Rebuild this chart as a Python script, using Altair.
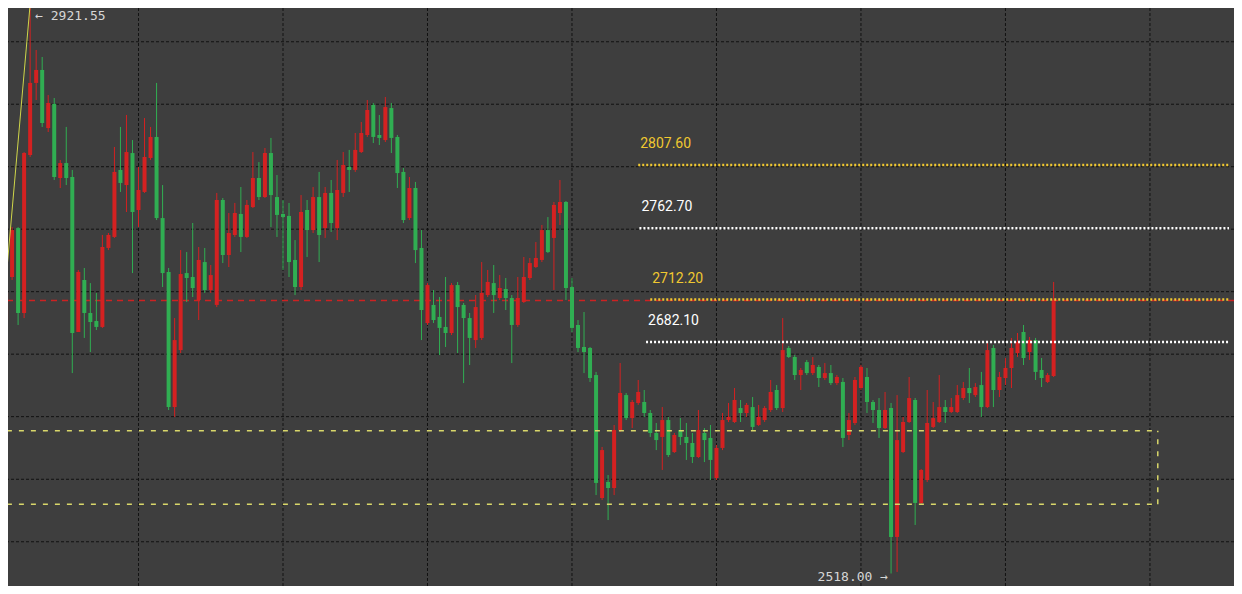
import altair as alt
import pandas as pd

# ---- candle data (index 0 = leftmost bar) ----
OPEN = [2697.7, 2728.2, 2762.9, 2702.7, 2814.7, 2865.8, 2875.0, 2833.8, 2850.9, 2798.4,
        2809.0, 2799.1, 2689.2, 2726.1, 2702.7, 2697.0, 2692.8, 2748.8, 2756.6, 2804.1,
        2793.4, 2816.1, 2775.7, 2788.5, 2812.6, 2827.5, 2770.0, 2731.8, 2636.0, 2676.4,
        2731.0, 2728.2, 2711.9, 2738.8, 2719.0, 2708.4, 2782.8, 2743.8, 2758.0, 2772.9,
        2756.6, 2777.8, 2798.4, 2784.9, 2816.1, 2784.9, 2772.9, 2771.5, 2740.3, 2721.1,
        2775.7, 2761.5, 2784.9, 2762.9, 2787.8, 2762.9, 2787.8, 2806.2, 2804.1, 2816.8,
        2828.9, 2850.2, 2828.9, 2825.3, 2848.0, 2827.5, 2802.7, 2770.0, 2791.3, 2748.8,
        2695.6, 2708.4, 2699.9, 2692.8, 2688.5, 2722.5, 2708.4, 2699.1, 2683.5, 2685.0,
        2715.4, 2723.9, 2713.3, 2719.7, 2713.3, 2694.2, 2710.5, 2727.5, 2735.3, 2740.3,
        2761.5, 2755.9, 2773.6, 2781.4, 2721.1, 2694.2, 2678.6, 2677.9, 2658.7, 2571.5,
        2582.9, 2578.6, 2619.7, 2644.5, 2628.2, 2638.9, 2639.6, 2631.8, 2617.6, 2614.8,
        2626.8, 2604.1, 2619.7, 2614.8, 2610.5, 2600.6, 2617.6, 2614.1, 2585.7, 2607.0,
        2626.8, 2625.4, 2635.3, 2631.8, 2636.0, 2623.3, 2626.8, 2633.9, 2648.1, 2635.3,
        2677.9, 2671.5, 2658.7, 2667.9, 2660.1, 2664.4, 2656.6, 2660.1, 2653.0, 2653.8,
        2616.2, 2624.7, 2649.5, 2657.3, 2639.6, 2633.9, 2621.1, 2635.3, 2543.9, 2604.1,
        2625.4, 2641.0, 2568.0, 2584.3, 2621.9, 2625.4, 2636.0, 2632.5, 2632.5, 2642.4,
        2649.5, 2644.5, 2651.6, 2636.0, 2677.9, 2648.1, 2656.6, 2663.7, 2674.3, 2689.2,
        2675.0, 2683.5, 2662.3, 2653.8, 2658.0]

HIGH = [2721.1, 2763.6, 2763.6, 2816.8, 2921.55, 2889.2, 2884.2, 2857.2, 2855.1, 2811.2,
        2834.6, 2804.1, 2733.2, 2734.6, 2723.9, 2716.9, 2758.0, 2759.4, 2820.4, 2834.6,
        2843.1, 2825.3, 2806.2, 2840.9, 2834.6, 2865.8, 2793.4, 2734.6, 2699.1, 2747.3,
        2745.9, 2766.5, 2749.5, 2748.8, 2736.7, 2787.8, 2784.2, 2773.6, 2780.7, 2792.0,
        2782.8, 2816.8, 2809.7, 2819.7, 2826.8, 2800.5, 2782.8, 2780.7, 2754.4, 2786.3,
        2782.8, 2792.0, 2802.7, 2792.0, 2797.0, 2811.2, 2816.8, 2818.3, 2830.3, 2838.1,
        2853.7, 2851.6, 2843.1, 2855.8, 2851.6, 2828.9, 2805.5, 2799.1, 2795.6, 2761.5,
        2723.9, 2719.0, 2714.0, 2728.2, 2723.9, 2724.7, 2709.8, 2702.7, 2715.4, 2738.8,
        2733.2, 2736.7, 2729.6, 2727.5, 2715.4, 2728.2, 2742.4, 2741.7, 2753.0, 2765.1,
        2770.7, 2781.4, 2797.0, 2782.1, 2727.5, 2697.7, 2703.4, 2678.6, 2660.9, 2607.7,
        2587.8, 2623.3, 2667.2, 2645.9, 2641.0, 2655.2, 2648.1, 2633.9, 2624.7, 2636.0,
        2629.0, 2617.6, 2628.2, 2624.7, 2617.6, 2633.9, 2621.1, 2623.3, 2609.1, 2631.8,
        2638.9, 2649.5, 2641.0, 2638.9, 2643.1, 2637.5, 2636.7, 2655.2, 2651.6, 2699.1,
        2679.3, 2672.9, 2663.7, 2669.4, 2671.5, 2665.8, 2667.2, 2665.8, 2658.7, 2656.6,
        2631.8, 2657.3, 2665.8, 2663.7, 2641.0, 2642.4, 2646.7, 2638.9, 2644.5, 2629.0,
        2657.3, 2642.4, 2592.1, 2648.1, 2639.6, 2658.7, 2641.0, 2642.4, 2651.6, 2653.8,
        2663.7, 2653.0, 2660.9, 2682.1, 2680.0, 2660.9, 2670.8, 2685.0, 2688.5, 2694.2,
        2685.7, 2685.0, 2670.8, 2660.1, 2724.7]

LOW = [2696.3, 2726.1, 2694.2, 2699.1, 2813.3, 2853.7, 2834.6, 2831.0, 2797.0, 2791.3,
       2793.4, 2660.1, 2689.2, 2685.0, 2675.0, 2690.6, 2692.1, 2747.3, 2755.9, 2788.5,
       2774.3, 2731.0, 2763.6, 2787.8, 2811.2, 2768.6, 2721.1, 2633.9, 2629.0, 2674.3,
       2710.5, 2714.0, 2697.7, 2716.9, 2716.9, 2706.9, 2738.1, 2735.3, 2756.6, 2745.9,
       2755.9, 2777.1, 2782.8, 2784.2, 2763.6, 2756.6, 2733.2, 2728.2, 2715.4, 2719.0,
       2742.4, 2759.4, 2738.8, 2755.9, 2760.1, 2754.4, 2784.9, 2788.5, 2802.7, 2816.1,
       2827.5, 2823.2, 2821.8, 2823.9, 2816.1, 2791.3, 2766.5, 2768.6, 2738.1, 2683.5,
       2694.2, 2695.6, 2672.9, 2678.6, 2687.1, 2674.3, 2653.0, 2665.8, 2677.9, 2683.5,
       2714.0, 2702.7, 2711.9, 2704.8, 2667.2, 2692.8, 2709.8, 2726.1, 2734.6, 2738.8,
       2745.2, 2719.0, 2765.1, 2711.9, 2689.2, 2675.0, 2660.1, 2653.8, 2573.6, 2570.1,
       2555.9, 2573.6, 2618.3, 2626.8, 2621.1, 2637.5, 2629.0, 2614.8, 2605.5, 2591.4,
       2600.6, 2603.4, 2609.1, 2598.5, 2596.3, 2599.9, 2597.0, 2584.3, 2584.3, 2605.5,
       2625.4, 2624.7, 2625.4, 2629.0, 2619.7, 2622.6, 2625.4, 2632.5, 2633.9, 2632.5,
       2670.8, 2655.2, 2648.1, 2658.7, 2658.7, 2650.2, 2655.2, 2651.6, 2651.6, 2607.7,
       2612.6, 2623.3, 2648.1, 2631.8, 2624.7, 2614.1, 2620.4, 2518.0, 2519.1, 2603.4,
       2624.7, 2552.4, 2566.6, 2582.9, 2621.1, 2624.7, 2624.7, 2631.8, 2631.8, 2641.0,
       2638.9, 2643.1, 2629.0, 2635.3, 2636.0, 2643.1, 2651.6, 2649.5, 2671.5, 2665.8,
       2669.4, 2655.2, 2650.2, 2653.0, 2657.3]

CLOSE = [2716.9, 2761.5, 2702.7, 2816.1, 2865.8, 2875.0, 2837.4, 2851.6, 2799.1, 2809.0,
         2798.4, 2688.5, 2731.8, 2702.7, 2696.3, 2692.8, 2749.5, 2758.0, 2802.7, 2794.9,
         2816.8, 2774.3, 2789.9, 2813.3, 2827.5, 2770.0, 2731.0, 2636.0, 2683.5, 2730.3,
         2727.5, 2720.4, 2740.3, 2719.0, 2729.6, 2782.8, 2743.8, 2759.4, 2773.6, 2756.6,
         2779.3, 2798.4, 2784.9, 2816.1, 2786.3, 2772.2, 2770.7, 2738.8, 2721.1, 2774.3,
         2761.5, 2784.9, 2758.0, 2787.8, 2766.5, 2789.9, 2807.6, 2804.1, 2818.3, 2830.3,
         2846.6, 2827.5, 2826.8, 2848.7, 2826.8, 2801.9, 2768.6, 2791.3, 2747.3, 2704.8,
         2722.5, 2697.7, 2692.1, 2688.5, 2722.5, 2706.9, 2699.1, 2685.0, 2706.9, 2716.9,
         2724.7, 2715.4, 2720.4, 2713.3, 2694.2, 2713.3, 2728.2, 2738.1, 2741.7, 2761.5,
         2745.9, 2779.3, 2781.4, 2720.4, 2692.1, 2677.9, 2675.0, 2656.6, 2582.2, 2605.5,
         2578.6, 2619.7, 2646.0, 2628.2, 2639.6, 2646.7, 2631.8, 2617.6, 2612.6, 2626.8,
         2602.0, 2616.2, 2614.8, 2610.5, 2600.6, 2619.7, 2612.6, 2598.5, 2607.0, 2626.8,
         2629.0, 2641.0, 2631.8, 2637.5, 2621.9, 2629.0, 2635.3, 2646.7, 2635.3, 2676.4,
         2671.5, 2658.7, 2662.3, 2660.1, 2665.8, 2656.6, 2660.1, 2653.0, 2657.3, 2614.1,
         2626.8, 2655.2, 2664.4, 2639.6, 2633.9, 2621.1, 2633.9, 2543.9, 2612.6, 2625.4,
         2642.4, 2568.0, 2591.4, 2624.7, 2628.2, 2636.0, 2632.5, 2636.0, 2644.5, 2649.5,
         2645.9, 2650.2, 2636.0, 2676.4, 2648.1, 2657.3, 2663.7, 2677.9, 2682.1, 2670.8,
         2683.5, 2660.9, 2656.6, 2658.7, 2711.9]

# ---- grid, levels, annotations ----
GRID_X = [22, 46, 70, 94, 118, 142, 166, 190]
GRID_Y = [2895.0, 2850.7, 2806.4, 2762.1, 2717.8, 2673.5, 2629.2, 2584.8, 2540.5]

LEVEL_PRICES = [2807.60, 2762.70, 2712.20, 2682.10]
LEVEL_LABELS = ["2807.60", "2762.70", "2712.20", "2682.10"]
LEVEL_START = [105.0, 105.2, 107.0, 106.3]
LEVEL_KIND = ["yellow", "white", "yellow", "white"]

BID_PRICE = 2711.5
ZONE_TOP = 2619.2
ZONE_BOTTOM = 2567.1
ZONE_END = 191.3

TREND_X = [-0.16, 4]
TREND_Y = [2719.0, 2921.55]

HIGH_IDX, HIGH_VAL, HIGH_TEXT = 4, 2921.55, "← 2921.55"
LOW_IDX, LOW_VAL, LOW_TEXT = 147, 2518.00, "2518.00 →"

# ---- styling / view ----
X_DOMAIN = [1.153, 203.13]
Y_DOMAIN = [2509.13, 2918.93]
BG = "#3e3e3e"
UP = "#d42121"
DOWN = "#30ae52"
YELLOW = "#f0c830"

xs = alt.Scale(domain=X_DOMAIN, nice=False, zero=False)
ys = alt.Scale(domain=Y_DOMAIN, nice=False, zero=False)

candles = pd.DataFrame({"i": list(range(len(OPEN))), "open": OPEN, "high": HIGH,
                        "low": LOW, "close": CLOSE})
candles["dir"] = ["up" if c >= o else "down" for o, c in zip(OPEN, CLOSE)]

color = alt.Color("dir:N", scale=alt.Scale(domain=["up", "down"], range=[UP, DOWN]), legend=None)

gx = pd.DataFrame({"i": GRID_X})
gy = pd.DataFrame({"p": GRID_Y})

grid_v = alt.Chart(gx).mark_rule(color="#121212", strokeWidth=1, strokeDash=[3, 2], clip=True).encode(
    x=alt.X("i:Q", scale=xs, axis=None))
grid_h = alt.Chart(gy).mark_rule(color="#121212", strokeWidth=1, strokeDash=[3, 2], clip=True).encode(
    y=alt.Y("p:Q", scale=ys, axis=None))

zone_df = pd.DataFrame({"x0": [X_DOMAIN[0] - 5, X_DOMAIN[0] - 5], "x1": [ZONE_END, ZONE_END],
                        "p": [ZONE_TOP, ZONE_BOTTOM]})
zone_h = alt.Chart(zone_df).mark_rule(color="#d9d76a", strokeWidth=1.5, strokeDash=[5, 7], clip=True).encode(
    x=alt.X("x0:Q", scale=xs, axis=None), x2="x1:Q", y=alt.Y("p:Q", scale=ys, axis=None))
zone_v_df = pd.DataFrame({"i": [ZONE_END], "p0": [ZONE_BOTTOM], "p1": [ZONE_TOP]})
zone_v = alt.Chart(zone_v_df).mark_rule(color="#d9d76a", strokeWidth=1.5, strokeDash=[5, 7], clip=True).encode(
    x=alt.X("i:Q", scale=xs, axis=None), y=alt.Y("p0:Q", scale=ys, axis=None), y2="p1:Q")

bid_df = pd.DataFrame({"p": [BID_PRICE]})
bid = alt.Chart(bid_df).mark_rule(color="#cc2222", strokeWidth=1.5, strokeDash=[6, 5], clip=True).encode(
    y=alt.Y("p:Q", scale=ys, axis=None))

trend_df = pd.DataFrame({"i": TREND_X, "p": TREND_Y})
trend = alt.Chart(trend_df).mark_line(color="#cfd64a", strokeWidth=1, clip=True).encode(
    x=alt.X("i:Q", scale=xs, axis=None), y=alt.Y("p:Q", scale=ys, axis=None))

wicks = alt.Chart(candles).mark_rule(strokeWidth=1, clip=True).encode(
    x=alt.X("i:Q", scale=xs, axis=None), y=alt.Y("low:Q", scale=ys, axis=None), y2="high:Q", color=color)
bodies = alt.Chart(candles).mark_bar(size=4, clip=True).encode(
    x=alt.X("i:Q", scale=xs, axis=None), y=alt.Y("open:Q", scale=ys, axis=None), y2="close:Q", color=color)

lv = pd.DataFrame({"start": LEVEL_START, "end": [X_DOMAIN[1]] * 4, "p": LEVEL_PRICES,
                   "label": LEVEL_LABELS, "kind": LEVEL_KIND})
lcolor = alt.Color("kind:N", scale=alt.Scale(domain=["yellow", "white"], range=[YELLOW, "#ffffff"]), legend=None)
level_lines = alt.Chart(lv).mark_rule(strokeWidth=2.5, strokeDash=[2, 2], clip=True).encode(
    x=alt.X("start:Q", scale=xs, axis=None), x2="end:Q", y=alt.Y("p:Q", scale=ys, axis=None), color=lcolor)
level_text = alt.Chart(lv).mark_text(align="left", baseline="middle", dx=2, dy=-21,
                                     font="Roboto", fontSize=14).encode(
    x=alt.X("start:Q", scale=xs, axis=None), y=alt.Y("p:Q", scale=ys, axis=None), text="label:N", color=lcolor)

hi_df = pd.DataFrame({"i": [HIGH_IDX], "p": [HIGH_VAL], "t": [HIGH_TEXT]})
lo_df = pd.DataFrame({"i": [LOW_IDX], "p": [LOW_VAL], "t": [LOW_TEXT]})
hi_text = alt.Chart(hi_df).mark_text(align="left", baseline="middle", dx=5, dy=12, font="DejaVu Sans Mono",
                                     fontSize=13, color="#d6d6d6").encode(
    x=alt.X("i:Q", scale=xs, axis=None), y=alt.Y("p:Q", scale=ys, axis=None), text="t:N")
lo_text = alt.Chart(lo_df).mark_text(align="right", baseline="middle", dx=-3, dy=4, font="DejaVu Sans Mono",
                                     fontSize=13, color="#d6d6d6").encode(
    x=alt.X("i:Q", scale=xs, axis=None), y=alt.Y("p:Q", scale=ys, axis=None), text="t:N")

chart = alt.layer(
    grid_v, grid_h, bid, wicks, bodies, zone_h, zone_v, trend, level_lines, level_text, hi_text, lo_text
).resolve_scale(color="independent").properties(
    width=1226, height=578, padding=0, background=BG,
    autosize=alt.AutoSizeParams(type="none"),
).configure_view(stroke=None)

chart.save("out.html", embed_options={"renderer": "svg", "actions": False})
